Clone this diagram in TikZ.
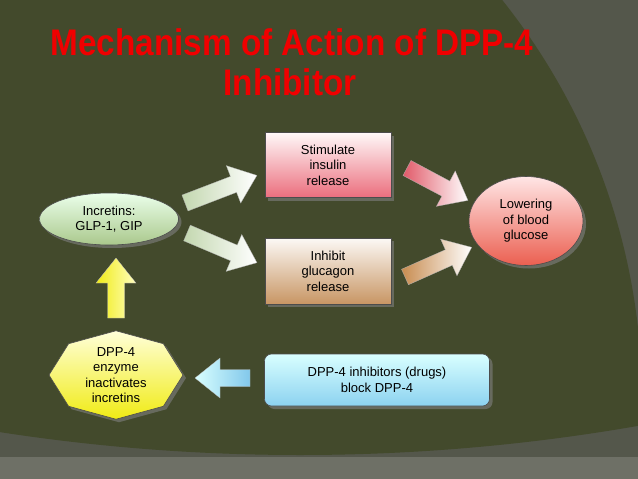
\documentclass[tikz,border=0pt]{standalone}
\usepackage{fontspec}
\setmainfont{Liberation Sans}
\usetikzlibrary{shapes.geometric,shadows}
\definecolor{olive}{HTML}{434A2C}
\definecolor{bggray}{HTML}{54574B}
\definecolor{titlered}{HTML}{F00000}
\newcommand\barr[5]{\begin{scope}[shift={#1},rotate=#2]
 \path[draw=black!30,line width=0.3pt,#5] (0,-8.5) -- (#3-#4,-8.5) -- (#3-#4,-20) -- (#3,0) -- (#3-#4,20) -- (#3-#4,8.5) -- (0,8.5) -- cycle;
 \end{scope}}
\begin{document}
\begin{tikzpicture}[x=1pt,y=-1pt,
  box/.style={draw=black!70,line width=0.6pt,align=center,font=\fontsize{13}{15.5}\selectfont,drop shadow={shadow xshift=3pt,shadow yshift=-3pt,opacity=0.6}}]
\useasboundingbox (0,0) rectangle (638,479);
\fill[bggray] (0,0) rectangle (638,479);
\begin{scope}
\clip (300,-1500) circle (1955);
\fill[olive] (0,400) circle (642);
\end{scope}
\fill[bggray!85!white] (0,457) rectangle (638,479);
% title
\node[font=\bfseries\fontsize{37}{40}\selectfont,text=titlered,xscale=0.9] (t1) at (292,42) {Mechanism of Action of DPP-4};
\node[font=\bfseries\fontsize{37}{40}\selectfont,text=titlered,xscale=0.9] (t2) at (290,82) {Inhibitor};
% nodes
\node[box,ellipse,minimum width=139pt,minimum height=52pt,inner sep=0pt,top color=green!8!white,bottom color={rgb,255:red,170;green,200;blue,140}] (inc) at (109,219) {Incretins:\\GLP-1, GIP};
\node[box,rectangle,minimum width=126pt,minimum height=65pt,inner sep=0pt,top color=white!90!pink,bottom color={rgb,255:red,235;green,110;blue,125}] (stim) at (328,165) {Stimulate\\insulin\\release};
\node[box,rectangle,minimum width=126pt,minimum height=66pt,inner sep=0pt,top color=white!95!brown,bottom color={rgb,255:red,200;green,150;blue,100}] (inh) at (328,271) {Inhibit\\glucagon\\release};
\node[box,ellipse,minimum width=114pt,minimum height=89pt,inner sep=0pt,top color=white!90!red,bottom color={rgb,255:red,235;green,95;blue,80}] (low) at (526,221) {Lowering\\of blood\\glucose};
\node[box,regular polygon,regular polygon sides=8,minimum size=134pt,inner sep=0pt,shape border rotate=22.5,top color=white!85!yellow,bottom color={rgb,255:red,240;green,235;blue,20},yscale=0.66] (dpp) at (116,375) {};
\node[font=\fontsize{13}{15.5}\selectfont,align=center] (dppt) at (116,375) {DPP-4\\enzyme\\inactivates\\incretins};
\node[box,rounded corners=7pt,minimum width=225pt,minimum height=52pt,top color=white!85!cyan,bottom color={rgb,255:red,140;green,210;blue,240}] (drug) at (377,380) {DPP-4 inhibitors (drugs)\\block DPP-4};
% block arrows
\barr{(185,203)}{21}{77}{25}{left color={rgb,255:red,195;green,215;blue,175},right color=white}
\barr{(187,233)}{-23}{76}{25}{left color={rgb,255:red,195;green,215;blue,175},right color=white}
\barr{(407,168)}{-28}{69}{25}{left color={rgb,255:red,225;green,90;blue,105},right color=white}
\barr{(405,277)}{24}{73}{25}{left color={rgb,255:red,200;green,140;blue,80},right color=white}
\barr{(116,318)}{90}{60}{25}{left color={rgb,255:red,240;green,235;blue,20},right color=white!75!yellow}
\barr{(250,378)}{180}{55}{25}{left color=white!85!cyan,right color={rgb,255:red,130;green,200;blue,235}}
\end{tikzpicture}
\end{document}
